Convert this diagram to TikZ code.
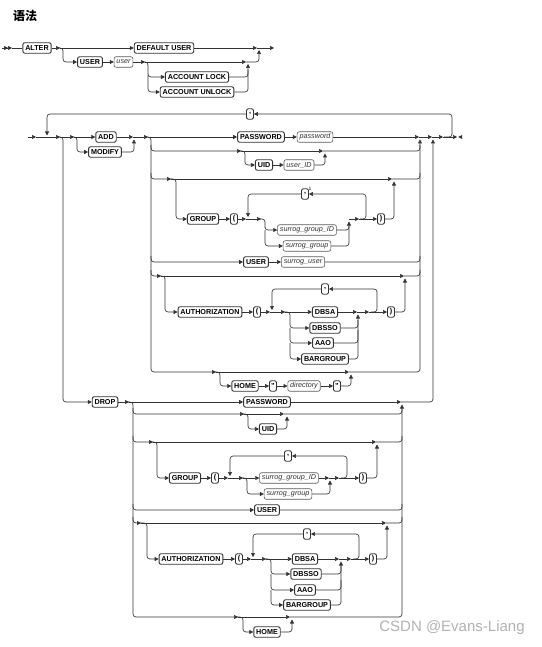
\documentclass[tikz,border=0pt]{standalone}
\usepackage{fontspec}
\setmainfont{Liberation Sans}
\newfontfamily\cjk{Noto Sans CJK SC}
\usetikzlibrary{arrows.meta}

\begin{document}
\begin{tikzpicture}[x=1pt,y=-1pt,
		Rail/.style={draw=black!80, line width=.65pt, rounded corners=3pt},
		Tip/.style={-{Triangle[length=4pt,width=4pt]}},
		Key/.style={draw=black!80, line width=.9pt, rounded corners=2pt, fill=white,
			font=\fontsize{7.2}{8}\selectfont\bfseries, inner xsep=2.4pt, inner ysep=1pt, minimum height=10.5pt},
		Var/.style={Key, draw=black!65, line width=.6pt, text=black!80,
			font=\fontsize{7.2}{8}\selectfont\itshape},
		Sym/.style={Key, inner xsep=1.6pt, minimum width=7pt}
	]
	\useasboundingbox (0,0) rectangle (541,647);
	\node[font=\cjk\bfseries\fontsize{12}{14}\selectfont] (title) at (25,16) {语法};

	% ALTER
	\node[Key] (alter) at (37,48) {ALTER};
	\node[Key] (defuser) at (164,48) {DEFAULT USER};
	\node[Key] (user) at (90,62) {USER};
	\node[Var] (uname) at (123.5,62) {user};
	\node[Key] (lock) at (197,77) {ACCOUNT LOCK};
	\node[Key] (unlock) at (197,92) {ACCOUNT UNLOCK};

	\draw[Rail,-{Triangle[length=4pt,width=4pt]Triangle[length=4pt,width=4pt]}] (2,48) -- (12,48);
	\draw[Rail] (12,48) -- (alter);
	\draw[Rail,Tip] (alter) -- (60,48);
	\draw[Rail,Tip] (60,48) -- (defuser);
	\draw[Rail,Tip] (defuser) -- (257,48);
	\draw[Rail,Tip] (257,48) -- (274,48);
	\draw[Rail,Tip] (58,48) -| (63,55) |- (user);
	\draw[Rail,Tip] (user) -- (uname);
	\draw[Rail,Tip] (uname) -- (145,62);
	\draw[Rail,Tip] (145,62) -- (246,62);
	\draw[Rail,Tip] (143,62) -| (148,70) |- (lock);
	\draw[Rail,Tip] (148,75) |- (unlock);
	\draw[Rail] (lock) -| (248,70);
	\draw[Rail,Tip] (unlock) -| (248,64);
	\draw[Rail,Tip] (246,62) -| (259,50);

	% ADD / MODIFY
	\node[Sym] (comma1) at (250,114) {,};
	\node[Key] (add) at (106,137) {ADD};
	\node[Key] (modify) at (105,152) {MODIFY};
	\node[Key] (pwd) at (261,137) {PASSWORD};
	\node[Var] (pwdv) at (315,137) {password};
	\node[Key] (uid) at (264,165) {UID};
	\node[Var] (uidv) at (299,165) {user\_ID};
	\node[Key] (group) at (203,219) {GROUP};
	\node[Sym] (lp1) at (234,219) {(};
	\node[Sym] (comma2) at (305,194) {,};
	\node[font=\fontsize{5}{6}\selectfont, text=blue!70!black, inner sep=0pt] (fn) at (310,189) {1};
	\node[Var] (sgid) at (307,230) {surrog\_group\_ID};
	\node[Var] (sg) at (307,246) {surrog\_group};
	\node[Sym] (rp1) at (381,219) {)};
	\node[Key] (usr2) at (256,262) {USER};
	\node[Var] (susr) at (303,262) {surrog\_user};
	\node[Key] (auth) at (210,312) {AUTHORIZATION};
	\node[Sym] (lp2) at (257,312) {(};
	\node[Sym] (comma3) at (325,289) {,};
	\node[Key] (dbsa) at (325,312) {DBSA};
	\node[Key] (dbsso) at (325,328) {DBSSO};
	\node[Key] (aao) at (323,343) {AAO};
	\node[Key] (barg) at (325,359) {BARGROUP};
	\node[Sym] (rp2) at (391,312) {)};
	\node[Key] (home) at (245,386) {HOME};
	\node[Sym] (q1) at (273,386) {"};
	\node[Var] (dir) at (304,386) {directory};
	\node[Sym] (q2) at (337,386) {"};

	\draw[Rail,Tip] (28,137) -- (36,137);
	\draw[Rail,Tip] (36,137) -- (60,137);
	\draw[Rail,Tip] (444,137) -| (452,125) |- (comma1);
	\draw[Rail,Tip] (comma1) -| (47,135.5);
	\draw[Rail,Tip] (60,137) -- (74,137);
	\draw[Rail,Tip] (74,137) -- (add);
	\draw[Rail,Tip] (72,137) -| (77,145) |- (modify);
	\draw[Rail,Tip] (add) -- (133,137);
	\draw[Rail,Tip] (modify) -| (134,139.5);
	\draw[Rail,Tip] (133,137) -- (148,137);
	\draw[Rail,Tip] (148,137) -- (pwd);
	\draw[Rail,Tip] (pwd) -- (pwdv);
	\draw[Rail,Tip] (pwdv) -- (419,137);
	\draw[Rail,Tip] (419,137) -- (432,137);
	\draw[Rail,Tip] (432,137) -- (443,137);
	\draw[Rail,Tip] (443,137) -- (457,137);
	\fill[black!80] (458,137) -- (462,135) -- (462,139) -- cycle;
	\draw[Rail,Tip] (146,137) -| (151,300) |- (216,372);
	\draw[Rail,Tip] (216,372) -- (349,372);
	\draw[Rail,Tip] (349,372) -| (420,139.5);

	\draw[Rail,Tip] (151,145) |- (241,151);
	\draw[Rail,Tip] (241,151) -- (323,151);
	\draw[Rail] (323,151) -| (420,145);
	\draw[Rail,Tip] (239,151) -| (245,158) |- (uid);
	\draw[Rail,Tip] (uid) -- (uidv);
	\draw[Rail,Tip] (uidv) -| (325,153.5);

	\draw[Rail,Tip] (151,173) |- (171,179);
	\draw[Rail,Tip] (171,179) -- (392,179);
	\draw[Rail] (392,179) -| (420,173);
	\draw[Rail,Tip] (169,179) -| (176,200) |- (group);
	\draw[Rail,Tip] (group) -- (lp1);
	\draw[Rail,Tip] (lp1) -- (246,219);
	\draw[Rail,Tip] (246,219) -- (261,219);
	\draw[Rail,Tip] (260,219) -| (265,225) |- (sgid);
	\draw[Rail,Tip] (265,230) |- (sg);
	\draw[Rail] (sgid) -| (349,224);
	\draw[Rail,Tip] (sg) -| (349,221.5);
	\draw[Rail,Tip] (349,219) -- (359,219);
	\draw[Rail,Tip] (359,219) -- (rp1);
	\draw[Rail,Tip] (360,219) -| (366,205) |- (comma2);
	\draw[Rail,Tip] (comma2) -| (248,217);
	\draw[Rail,Tip] (rp1) -| (394,181.5);

	\draw[Rail,Tip] (151,256) |- (usr2);
	\draw[Rail,Tip] (usr2) -- (susr);
	\draw[Rail] (susr) -| (420,256);

	\draw[Rail,Tip] (151,270) |- (161,276);
	\draw[Rail,Tip] (161,276) -- (404,276);
	\draw[Rail] (404,276) -| (420,270);
	\draw[Rail,Tip] (159,276) -| (165,295) |- (auth);
	\draw[Rail,Tip] (auth) -- (lp2);
	\draw[Rail,Tip] (lp2) -- (270,312);
	\draw[Rail,Tip] (270,312) -- (285,312);
	\draw[Rail,Tip] (285,312) -- (dbsa);
	\draw[Rail,Tip] (284,312) -| (290,320) |- (dbsso);
	\draw[Rail,Tip] (290,328) |- (aao);
	\draw[Rail,Tip] (290,343) |- (barg);
	\draw[Rail,Tip] (dbsa) -- (357,312);
	\draw[Rail] (dbsso) -| (358,320);
	\draw[Rail] (aao) -| (358,330);
	\draw[Rail,Tip] (barg) -| (358,314.5);
	\draw[Rail,Tip] (357,312) -- (369,312);
	\draw[Rail,Tip] (369,312) -- (rp2);
	\draw[Rail,Tip] (371,312) -| (377,300) |- (comma3);
	\draw[Rail,Tip] (comma3) -| (272,310);
	\draw[Rail,Tip] (rp2) -| (405,278.5);

	\draw[Rail,Tip] (214,372) -| (220,380) |- (home);
	\draw[Rail,Tip] (home) -- (q1);
	\draw[Rail,Tip] (q1) -- (dir);
	\draw[Rail,Tip] (dir) -- (q2);
	\draw[Rail,Tip] (q2) -| (351,374.5);

	% DROP
	\node[Key] (drop) at (105,402) {DROP};
	\node[Key] (dpwd) at (267,402) {PASSWORD};
	\node[Key] (duid) at (268,429) {UID};
	\node[Key] (dgroup) at (185,478) {GROUP};
	\node[Sym] (lp3) at (215,478) {(};
	\node[Sym] (comma4) at (288,456) {,};
	\node[Var] (dsgid) at (289,478) {surrog\_group\_ID};
	\node[Var] (dsg) at (288,494) {surrog\_group};
	\node[Sym] (rp3) at (363,478) {)};
	\node[Key] (dusr) at (267,510) {USER};
	\node[Key] (dauth) at (191,559) {AUTHORIZATION};
	\node[Sym] (lp4) at (239,559) {(};
	\node[Sym] (comma5) at (307,534) {,};
	\node[Key] (ddbsa) at (305,559) {DBSA};
	\node[Key] (ddbsso) at (306,574) {DBSSO};
	\node[Key] (daao) at (305,590) {AAO};
	\node[Key] (dbarg) at (307,605) {BARGROUP};
	\node[Sym] (rp4) at (373,559) {)};
	\node[Key] (dhome) at (267,632) {HOME};

	\draw[Rail,Tip] (58,137) -| (63,300) |- (drop);
	\draw[Rail,Tip] (drop) -- (129,402);
	\draw[Rail,Tip] (129,402) -- (dpwd);
	\draw[Rail,Tip] (dpwd) -- (401,402);
	\draw[Rail,Tip] (401,402) -| (433,139.5);
	\draw[Rail,Tip] (128,402) -| (133,500) |- (238,617);
	\draw[Rail,Tip] (238,617) -- (290,617);
	\draw[Rail,Tip] (290,617) -| (402,404.5);
	\draw[Rail,Tip] (236,617) -| (243,625) |- (dhome);
	\draw[Rail,Tip] (dhome) -| (292,619.5);

	\draw[Rail,Tip] (133,408) |- (244,414);
	\draw[Rail,Tip] (244,414) -- (284,414);
	\draw[Rail] (284,414) -| (402,408);
	\draw[Rail,Tip] (242,414) -| (248,420) |- (duid);
	\draw[Rail,Tip] (duid) -| (287,416.5);

	\draw[Rail,Tip] (133,436) |- (153,442);
	\draw[Rail,Tip] (153,442) -- (376,442);
	\draw[Rail] (376,442) -| (402,436);
	\draw[Rail,Tip] (151,442) -| (157,460) |- (dgroup);
	\draw[Rail,Tip] (dgroup) -- (lp3);
	\draw[Rail,Tip] (lp3) -- (228,478);
	\draw[Rail,Tip] (228,478) -- (243,478);
	\draw[Rail,Tip] (243,478) -- (dsgid);
	\draw[Rail,Tip] (242,478) -| (247,486) |- (dsg);
	\draw[Rail,Tip] (dsgid) -- (329,478);
	\draw[Rail,Tip] (dsg) -| (330,480.5);
	\draw[Rail,Tip] (329,478) -- (339,478);
	\draw[Rail,Tip] (339,478) -- (rp3);
	\draw[Rail,Tip] (341,478) -| (347,466) |- (comma4);
	\draw[Rail,Tip] (comma4) -| (230,476);
	\draw[Rail,Tip] (rp3) -| (377,444.5);

	\draw[Rail,Tip] (133,504) |- (dusr);
	\draw[Rail] (dusr) -| (402,504);

	\draw[Rail,Tip] (133,517) |- (141,523);
	\draw[Rail,Tip] (141,523) -- (386,523);
	\draw[Rail] (386,523) -| (402,517);
	\draw[Rail,Tip] (140,523) -| (147,540) |- (dauth);
	\draw[Rail,Tip] (dauth) -- (lp4);
	\draw[Rail,Tip] (lp4) -- (251,559);
	\draw[Rail,Tip] (251,559) -- (266,559);
	\draw[Rail,Tip] (266,559) -- (ddbsa);
	\draw[Rail,Tip] (265,559) -| (271,567) |- (ddbsso);
	\draw[Rail,Tip] (271,574) |- (daao);
	\draw[Rail,Tip] (271,590) |- (dbarg);
	\draw[Rail,Tip] (ddbsa) -- (339,559);
	\draw[Rail] (ddbsso) -| (341,566);
	\draw[Rail] (daao) -| (341,580);
	\draw[Rail,Tip] (dbarg) -| (341,561.5);
	\draw[Rail,Tip] (339,559) -- (351,559);
	\draw[Rail,Tip] (351,559) -- (rp4);
	\draw[Rail,Tip] (353,559) -| (359,547) |- (comma5);
	\draw[Rail,Tip] (comma5) -| (253,557);
	\draw[Rail,Tip] (rp4) -| (387,525.5);

	\node[font=\fontsize{15}{17}\selectfont, text=black!30] (mark) at (452,628) {CSDN @Evans-Liang};
\end{tikzpicture}
\end{document}
